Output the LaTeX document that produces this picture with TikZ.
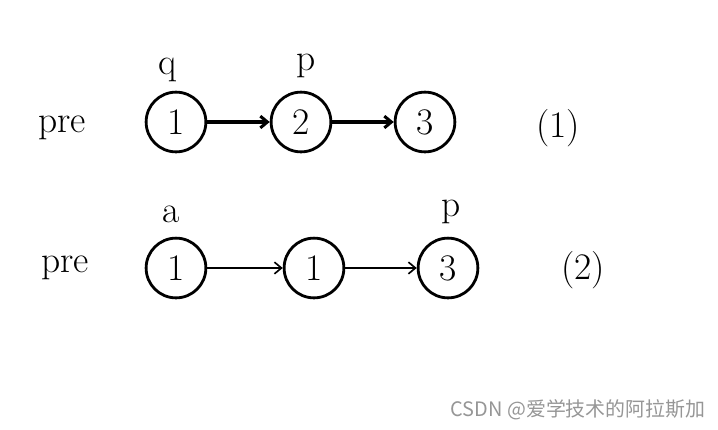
\documentclass[tikz,border=0pt]{standalone}
\usepackage{fontspec}
\newfontfamily\cjk{Noto Sans CJK SC}
\definecolor{inkblack}{RGB}{0, 0, 0}
\definecolor{markgray}{RGB}{150, 150, 150}
\usetikzlibrary{arrows.meta}

\tikzset{
  listnode/.style={circle, draw=inkblack, line width=2.4pt, minimum size=51pt, inner sep=0pt, font=\fontsize{32}{32}\selectfont},
  ptrlabel/.style={font=\fontsize{32}{32}\selectfont},
  link/.style={line width=1.4pt, -{Straight Barb[length=6pt, width=10pt]}},
  boldlink/.style={link, line width=2.6pt}
}

\begin{document}
\begin{tikzpicture}[x=0.3mm, y=-0.3mm]
    \useasboundingbox (0,0) rectangle (718,429);

    % Case (1)
    \node[ptrlabel] (preA) at (62,128) {pre};
    \node[listnode] (a1) at (176,122) {1};
    \node[listnode] (a2) at (301,122) {2};
    \node[listnode] (a3) at (425,122) {3};
    \node[ptrlabel] (qA) at (168,70) {q};
    \node[ptrlabel] (pA) at (306,66) {p};
    \node[ptrlabel] (caseA) at (558,128) {(1)};
    \draw[boldlink] (a1) -- (a2);
    \draw[boldlink] (a2) -- (a3);

    % Case (2)
    \node[ptrlabel] (preB) at (65,268) {pre};
    \node[listnode] (b1) at (176,268) {1};
    \node[listnode] (b2) at (314,268) {1};
    \node[listnode] (b3) at (448,268) {3};
    \node[ptrlabel] (qB) at (171,214) {a};
    \node[ptrlabel] (pB) at (451,212) {p};
    \node[ptrlabel] (caseB) at (583,270) {(2)};
    \draw[link] (b1) -- (b2);
    \draw[link] (b2) -- (b3);

    % Watermark
    \node[markgray, font=\fontsize{17}{17}\selectfont\cjk] (mark) at (578,410) {CSDN @爱学技术的阿拉斯加};
\end{tikzpicture}
\end{document}
